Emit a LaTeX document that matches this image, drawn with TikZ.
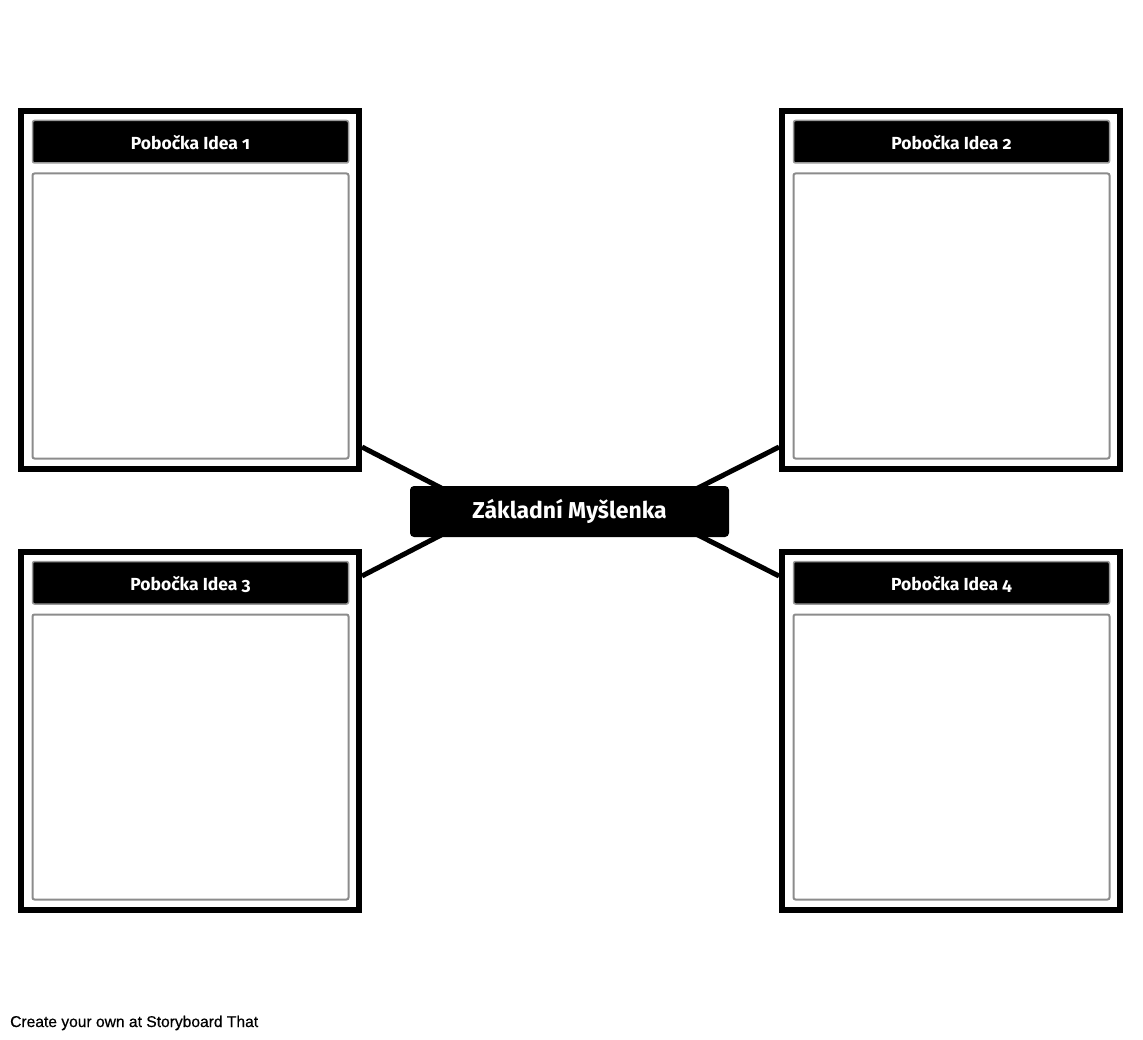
\documentclass[tikz,border=0pt]{standalone}
\usepackage{fontspec}
\newfontfamily\headfont[Numbers=OldStyle]{Fira Sans}
\newfontfamily\footfont[FakeBold=0.6]{Liberation Sans}
\begin{document}
\begin{tikzpicture}[x=1pt,y=-1pt,
  outerbox/.style={draw=black,line width=6pt,fill=white},
  headbox/.style={draw=gray!80,line width=1.5pt,fill=black,rounded corners=2pt},
  contentbox/.style={draw=gray!90,line width=2pt,fill=white,rounded corners=2pt},
  headtext/.style={text=white,font=\headfont\bfseries\fontsize{17.5}{20}\selectfont},
  link/.style={draw=black,line width=5pt},
  centerbox/.style={fill=black,rounded corners=4pt,text=white,font=\headfont\bfseries\fontsize{23}{27}\selectfont,minimum width=319pt,minimum height=51pt,inner sep=0pt}]
\useasboundingbox (0,0) rectangle (1143,1040);
\fill[white] (0,0) rectangle (1143,1040);
% connectors
\coordinate (l1) at (362,447);
\coordinate (l3) at (362,576);
\coordinate (r2) at (779,447);
\coordinate (r4) at (779,576);
\coordinate (c1) at (445,490);
\coordinate (c3) at (445,533);
\coordinate (c2) at (694,490);
\coordinate (c4) at (694,533);
\draw[link] (l1) -- (c1);
\draw[link] (l3) -- (c3);
\draw[link] (r2) -- (c2);
\draw[link] (r4) -- (c4);
% center
\node[centerbox] (center) at (569.5,511.5) {Základní Myšlenka};
% boxes
\foreach \n/\x/\y/\t in {b1/21/111/Pobočka Idea 1, b2/782/111/Pobočka Idea 2, b3/21/552/Pobočka Idea 3, b4/782/552/Pobočka Idea 4}{
  \draw[outerbox] (\x,\y) rectangle ++(338,358);
  \draw[headbox] (\x+11.5,\y+9.5) rectangle ++(316,42.5);
  \node[headtext] (\n h) at (\x+169.5,\y+32) {\t};
  \draw[contentbox] (\x+11.5,\y+62.5) rectangle ++(316,285);
}
\node[anchor=base west,inner sep=0pt,font=\footfont\fontsize{15.6}{18}\selectfont,text=black] (foot) at (10,1027) {Create your own at Storyboard That};
\end{tikzpicture}
\end{document}
